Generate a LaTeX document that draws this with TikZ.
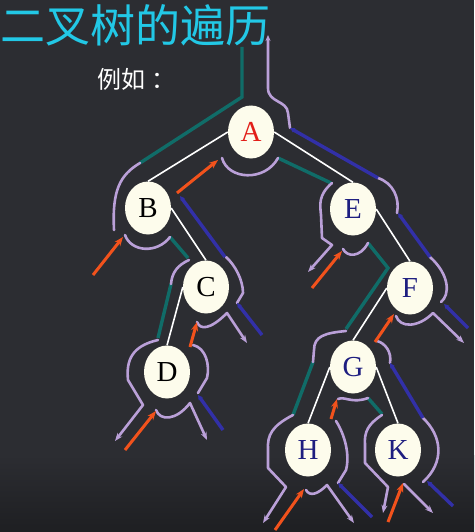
\documentclass[tikz,border=0pt]{standalone}
\usepackage{fontspec}
\setmainfont{Liberation Serif}
\newfontfamily\cjk{Noto Sans CJK SC}
\usetikzlibrary{shapes.geometric,arrows.meta}
\definecolor{bg}{RGB}{44,45,50}
\definecolor{bgdark}{RGB}{30,31,34}
\definecolor{cream}{RGB}{253,252,236}
\definecolor{lilac}{RGB}{186,160,216}
\definecolor{tealc}{RGB}{16,108,104}
\definecolor{bluc}{RGB}{50,48,168}
\definecolor{redc}{RGB}{242,82,28}
\definecolor{txtred}{RGB}{226,30,24}
\definecolor{navy}{RGB}{30,30,128}
\definecolor{titlecyan}{RGB}{34,200,230}
\tikzset{
  vert/.style={ellipse, fill=cream, inner sep=0pt, minimum width=46pt, minimum height=53pt,
    font=\fontsize{29}{29}\selectfont},
  treeedge/.style={white, line width=1.6pt},
  purp/.style={lilac, line width=2.6pt, line cap=round, line join=round},
  nullarr/.style={purp, -{Stealth[length=8pt,width=6pt]}},
  tealline/.style={tealc, line width=3.4pt},
  bluline/.style={bluc, line width=3.4pt, -{Stealth[length=5pt,width=5pt]}},
  redarr/.style={redc, line width=3pt, -{Stealth[length=9pt,width=7pt]}},
}
\begin{document}
\begin{tikzpicture}[x=1pt,y=-1pt]
\useasboundingbox (0,0) rectangle (474,532);
\fill[bg] (0,0) rectangle (474,532);
\shade[top color=bg, bottom color=bgdark] (0,455) rectangle (474,532);

\node[anchor=west, inner sep=0pt, text=titlecyan, font=\cjk\fontsize{45}{45}\selectfont] (title) at (0,25) {二叉树的遍历};
\node[anchor=west, inner sep=0pt, text=white, font=\cjk\fontsize{24}{24}\selectfont] (eg) at (97,79) {例如\hspace{6pt}：};

\foreach \n/\x/\y/\c in {A/251/132/txtred, B/148/208/black, C/206/287/black, D/167/372/black,
  E/353/209/navy, F/410/288/navy, G/353/367/navy, H/308/450/navy, K/398/450/navy}
  \node[vert, text=\c] (\n) at (\x,\y) {\n};

\foreach \p/\s/\q in {A/west/B, A/east/E, B/east/C, C/west/D, E/east/F, F/west/G, G/west/H, G/east/K}
  \draw[treeedge] (\p.\s) -- (\q.north);

\draw[tealline] (242,47) -- (242,97) -- (140,163);
\draw[tealline] (170,237) -- (188,258);
\draw[tealline] (171,284) -- (158,338);
\draw[tealline] (278,158) -- (331,183);
\draw[tealline] (368,243) -- (388,268) -- (346,329);
\draw[tealline] (313,362) -- (293,415);
\draw[tealline] (368,398) -- (382,414);

\draw[purp, -{Stealth[length=6pt,width=5pt]}] (290,128) -- (288,113) .. controls (287,100) and (268,103) .. (268,88) -- (268,35);
\draw[purp] (140,163) .. controls (120,175) and (112,190) .. (114,230);
\draw[purp] (125,235) .. controls (131,252) and (157,254) .. (170,237);
\draw[purp] (222,158) .. controls (228,180) and (265,182) .. (278,158);
\draw[purp] (189,260) .. controls (178,265) and (172,272) .. (171,284);
\draw[nullarr] (197,322) .. controls (200,330) and (210,330) .. (227,313) -- (247,343);
\draw[purp] (237,303) -- (243,293) .. controls (243,280) and (235,265) .. (226,257);
\draw[nullarr] (158,340) .. controls (132,346) and (126,360) .. (128,380) -- (143,405) -- (115,441);
\draw[nullarr] (156,410) .. controls (160,421) and (176,421) .. (190,403) -- (207,440);
\draw[purp] (198,393) -- (207,378) .. controls (210,365) and (206,348) .. (193,345);
\draw[nullarr] (332,183) .. controls (318,195) and (320,205) .. (321,215) -- (322,238) -- (332,245) -- (308,272);
\draw[purp] (343,249) .. controls (347,257) and (360,258) .. (368,243);
\draw[purp] (397,213) .. controls (400,198) and (393,183) .. (378,178);
\draw[nullarr] (396,316) .. controls (400,328) and (418,328) .. (433,313) -- (464,343);
\draw[purp] (441,302) .. controls (450,295) and (450,275) .. (430,257);
\draw[purp] (346,331) .. controls (325,333) and (314,336) .. (314,350) -- (313,362);
\draw[purp] (338,399) .. controls (345,396) and (352,404) .. (368,398);
\draw[purp] (390,363) .. controls (392,352) and (385,343) .. (377,341);
\draw[nullarr] (293,415) .. controls (272,426) and (267,435) .. (268,450) -- (268,468) -- (286,487) -- (263,523);
\draw[nullarr] (306,490) .. controls (310,497) and (318,494) .. (327,485) -- (354,523);
\draw[purp] (338,483) -- (346,470) .. controls (350,455) and (345,435) .. (336,421);
\draw[nullarr] (382,415) .. controls (368,424) and (364,432) .. (365,445) -- (365,463) -- (388,487) -- (383,513);
\draw[nullarr] (404,484) -- (433,513);
\draw[purp] (423,482) .. controls (445,462) and (442,436) .. (423,418);

\foreach \xa/\ya/\xb/\yb in {378/178/290/128, 225/257/180/196, 262/335/237/303, 223/430/198/395,
  430/257/398/213, 468/328/444/304, 423/418/390/363, 372/517/338/483, 453/506/427/481}
  \draw[bluline] (\xa,\ya) -- (\xb,\yb);

\foreach \xa/\ya/\xb/\yb in {93/275/123/237, 177/193/218/160, 190/347/197/322, 125/450/156/411,
  312/288/342/251, 375/342/394/314, 331/419/337/399, 275/530/304/489, 388/522/403/483}
  \draw[redarr] (\xa,\ya) -- (\xb,\yb);
\end{tikzpicture}
\end{document}
